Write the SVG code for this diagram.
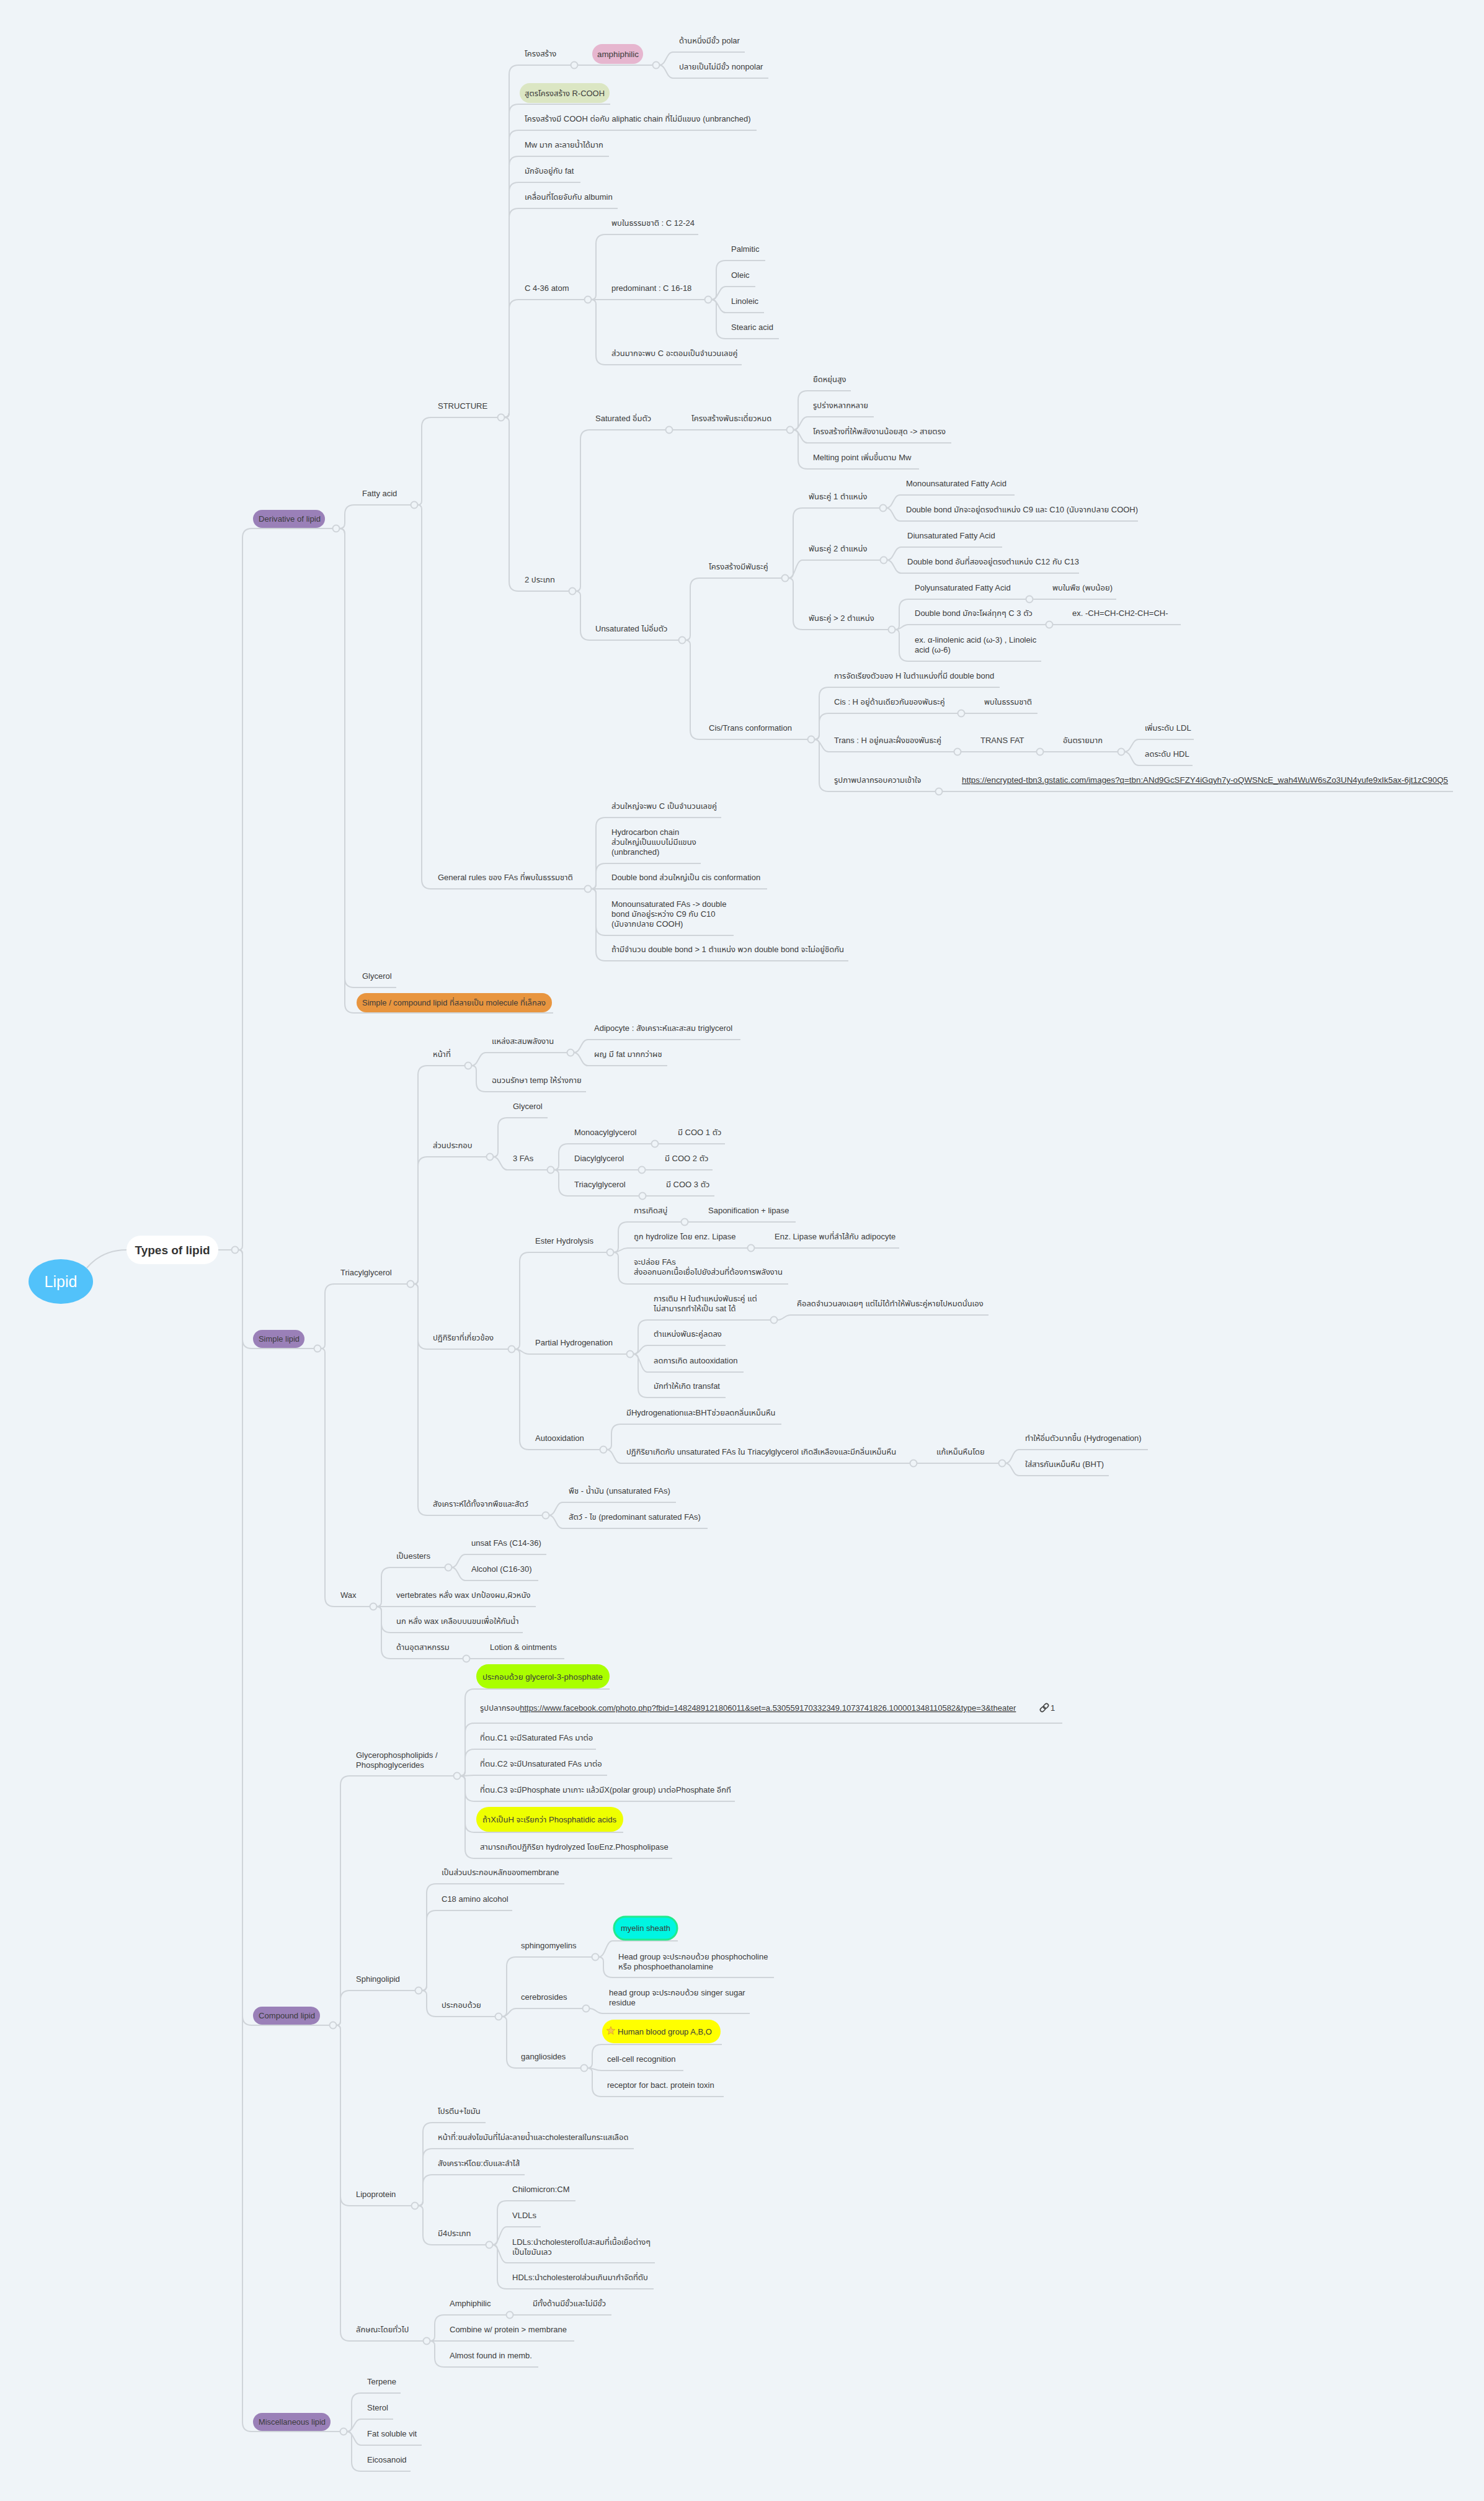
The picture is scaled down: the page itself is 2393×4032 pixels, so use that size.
<svg xmlns="http://www.w3.org/2000/svg" width="2393" height="4032" viewBox="0 0 2393 4032">
<style>
.t{font-family:"Liberation Sans","Noto Sans Thai","Noto Sans",sans-serif;font-size:13px;fill:#3b3b3b}
.u{stroke:#cfd4d9;stroke-width:2;fill:none}
#connectors path{stroke:#cfd4d9;stroke-width:2;fill:none}
.j{fill:#eff4f8;stroke:#cfd4d9;stroke-width:2}
.pp{fill:#9a80b8}
.lk{text-decoration:underline}
</style>
<rect width="2393" height="4032" fill="#eff4f8"/>
<g id="connectors">
<path d="M140 2044Q165 2015 204 2015"/>
<path d="M384.5 2015Q391 2015 391 2008.5V867Q391 852 406 852"/>
<path d="M384.5 2015Q391 2015 391 2021.5V2159Q391 2174 406 2174"/>
<path d="M384.5 2015Q391 2015 391 2021.5V3250Q391 3265 406 3265"/>
<path d="M384.5 2015Q391 2015 391 2021.5V3905Q391 3920 406 3920"/>
<path d="M547.5 852Q556 852 556 843.5V829Q556 814 571 814"/>
<path d="M547.5 852Q556 852 556 860.5V1577Q556 1592 571 1592"/>
<path d="M547.5 852Q556 852 556 860.5V1618Q556 1633 571 1633"/>
<path d="M673.5 814Q680 814 680 807.5V688Q680 673 695 673"/>
<path d="M673.5 814Q680 814 680 820.5V1418Q680 1433 695 1433"/>
<path d="M813.5 673Q821 673 821 665.5V120Q821 105 836 105"/>
<path d="M813.5 673Q821 673 821 665.5V183Q821 168 836 168"/>
<path d="M813.5 673Q821 673 821 665.5V225Q821 210 836 210"/>
<path d="M813.5 673Q821 673 821 665.5V267Q821 252 836 252"/>
<path d="M813.5 673Q821 673 821 665.5V309Q821 294 836 294"/>
<path d="M813.5 673Q821 673 821 665.5V351Q821 336 836 336"/>
<path d="M813.5 673Q821 673 821 665.5V498Q821 483 836 483"/>
<path d="M813.5 673Q821 673 821 680.5V938Q821 953 836 953"/>
<path d="M931.5 105H955"/>
<path d="M1063.5 105C1074.25 105 1074.25 84 1085 84"/>
<path d="M1063.5 105C1074.25 105 1074.25 126 1085 126"/>
<path d="M953.5 483Q961 483 961 475.5V393Q961 378 976 378"/>
<path d="M953.5 483H976"/>
<path d="M953.5 483Q961 483 961 490.5V573Q961 588 976 588"/>
<path d="M1147.5 483Q1155 483 1155 475.5V435Q1155 420 1170 420"/>
<path d="M1147.5 483C1158.75 483 1158.75 462 1170 462"/>
<path d="M1147.5 483C1158.75 483 1158.75 504 1170 504"/>
<path d="M1147.5 483Q1155 483 1155 490.5V531Q1155 546 1170 546"/>
<path d="M928.5 953Q936 953 936 945.5V708Q936 693 951 693"/>
<path d="M928.5 953Q936 953 936 960.5V1017Q936 1032 951 1032"/>
<path d="M1084.5 693H1105"/>
<path d="M1279.5 693Q1287 693 1287 685.5V645Q1287 630 1302 630"/>
<path d="M1279.5 693C1290.75 693 1290.75 672 1302 672"/>
<path d="M1279.5 693C1290.75 693 1290.75 714 1302 714"/>
<path d="M1279.5 693Q1287 693 1287 700.5V741Q1287 756 1302 756"/>
<path d="M1105.5 1032Q1113 1032 1113 1024.5V947Q1113 932 1128 932"/>
<path d="M1105.5 1032Q1113 1032 1113 1039.5V1177Q1113 1192 1128 1192"/>
<path d="M1271.5 932Q1279 932 1279 924.5V834Q1279 819 1294 819"/>
<path d="M1271.5 932C1282.75 932 1282.75 903 1294 903"/>
<path d="M1271.5 932Q1279 932 1279 939.5V1000Q1279 1015 1294 1015"/>
<path d="M1429.5 819C1440.25 819 1440.25 798 1451 798"/>
<path d="M1429.5 819C1440.25 819 1440.25 840 1451 840"/>
<path d="M1430.5 903C1441.75 903 1441.75 882 1453 882"/>
<path d="M1430.5 903C1441.75 903 1441.75 924 1453 924"/>
<path d="M1443.5 1015Q1450 1015 1450 1008.5V981Q1450 966 1465 966"/>
<path d="M1443.5 1015C1454.25 1015 1454.25 1007 1465 1007"/>
<path d="M1443.5 1015Q1450 1015 1450 1021.5V1051Q1450 1066 1465 1066"/>
<path d="M1665.5 966H1687"/>
<path d="M1697.5 1007H1719"/>
<path d="M1313.5 1192Q1321 1192 1321 1184.5V1123Q1321 1108 1336 1108"/>
<path d="M1313.5 1192Q1321 1192 1321 1184.5V1165Q1321 1150 1336 1150"/>
<path d="M1313.5 1192C1324.75 1192 1324.75 1212 1336 1212"/>
<path d="M1313.5 1192Q1321 1192 1321 1199.5V1261Q1321 1276 1336 1276"/>
<path d="M1555.5 1150H1577"/>
<path d="M1549.5 1212H1571"/>
<path d="M1682.5 1212H1704"/>
<path d="M1813.5 1212C1824.75 1212 1824.75 1192 1836 1192"/>
<path d="M1813.5 1212C1824.75 1212 1824.75 1234 1836 1234"/>
<path d="M1519.5 1276H1541"/>
<path d="M953.5 1433Q961 1433 961 1425.5V1333Q961 1318 976 1318"/>
<path d="M953.5 1433Q961 1433 961 1425.5V1407Q961 1392 976 1392"/>
<path d="M953.5 1433H976"/>
<path d="M953.5 1433Q961 1433 961 1440.5V1493Q961 1508 976 1508"/>
<path d="M953.5 1433Q961 1433 961 1440.5V1534Q961 1549 976 1549"/>
<path d="M517.5 2174Q524 2174 524 2167.5V2085Q524 2070 539 2070"/>
<path d="M517.5 2174Q524 2174 524 2180.5V2575Q524 2590 539 2590"/>
<path d="M667.5 2070Q674 2070 674 2063.5V1733Q674 1718 689 1718"/>
<path d="M667.5 2070Q674 2070 674 2063.5V1880Q674 1865 689 1865"/>
<path d="M667.5 2070Q674 2070 674 2076.5V2160Q674 2175 689 2175"/>
<path d="M667.5 2070Q674 2070 674 2076.5V2428Q674 2443 689 2443"/>
<path d="M760.5 1718C771.75 1718 771.75 1697 783 1697"/>
<path d="M760.5 1718Q768 1718 768 1725.5V1745Q768 1760 783 1760"/>
<path d="M925.5 1697C936.75 1697 936.75 1676 948 1676"/>
<path d="M925.5 1697C936.75 1697 936.75 1718 948 1718"/>
<path d="M795.5 1865Q803 1865 803 1857.5V1817Q803 1802 818 1802"/>
<path d="M795.5 1865C806.75 1865 806.75 1886 818 1886"/>
<path d="M893.5 1886Q901 1886 901 1878.5V1859Q901 1844 916 1844"/>
<path d="M893.5 1886H916"/>
<path d="M893.5 1886Q901 1886 901 1893.5V1913Q901 1928 916 1928"/>
<path d="M1061.5 1844H1083"/>
<path d="M1040.5 1886H1062"/>
<path d="M1041.5 1928H1064"/>
<path d="M830.5 2175Q838 2175 838 2167.5V2034Q838 2019 853 2019"/>
<path d="M830.5 2175C841.75 2175 841.75 2183 853 2183"/>
<path d="M830.5 2175Q838 2175 838 2182.5V2322Q838 2337 853 2337"/>
<path d="M989.5 2019Q997 2019 997 2011.5V1985Q997 1970 1012 1970"/>
<path d="M989.5 2019C1000.75 2019 1000.75 2012 1012 2012"/>
<path d="M989.5 2019Q997 2019 997 2026.5V2055Q997 2070 1012 2070"/>
<path d="M1109.5 1970H1132"/>
<path d="M1216.5 2012H1239"/>
<path d="M1021.5 2183Q1029 2183 1029 2175.5V2143Q1029 2128 1044 2128"/>
<path d="M1021.5 2183C1032.75 2183 1032.75 2169 1044 2169"/>
<path d="M1021.5 2183C1032.75 2183 1032.75 2212 1044 2212"/>
<path d="M1021.5 2183Q1029 2183 1029 2190.5V2238Q1029 2253 1044 2253"/>
<path d="M1253.5 2128C1264.25 2128 1264.25 2120 1275 2120"/>
<path d="M978.5 2337Q986 2337 986 2329.5V2311Q986 2296 1001 2296"/>
<path d="M978.5 2337C989.75 2337 989.75 2359 1001 2359"/>
<path d="M1478.5 2359H1500"/>
<path d="M1621.5 2359C1632.25 2359 1632.25 2337 1643 2337"/>
<path d="M1621.5 2359C1632.25 2359 1632.25 2379 1643 2379"/>
<path d="M885.5 2443C896.25 2443 896.25 2422 907 2422"/>
<path d="M885.5 2443C896.25 2443 896.25 2464 907 2464"/>
<path d="M607.5 2590Q615 2590 615 2582.5V2542Q615 2527 630 2527"/>
<path d="M607.5 2590H630"/>
<path d="M607.5 2590Q615 2590 615 2597.5V2617Q615 2632 630 2632"/>
<path d="M607.5 2590Q615 2590 615 2597.5V2659Q615 2674 630 2674"/>
<path d="M728.5 2527C739.25 2527 739.25 2506 750 2506"/>
<path d="M728.5 2527C739.25 2527 739.25 2548 750 2548"/>
<path d="M757.5 2674H780"/>
<path d="M542.5 3265Q549 3265 549 3258.5V2878Q549 2863 564 2863"/>
<path d="M542.5 3265Q549 3265 549 3258.5V3224Q549 3209 564 3209"/>
<path d="M542.5 3265Q549 3265 549 3271.5V3541Q549 3556 564 3556"/>
<path d="M542.5 3265Q549 3265 549 3271.5V3759Q549 3774 564 3774"/>
<path d="M742.5 2863Q750 2863 750 2855.5V2738Q750 2723 765 2723"/>
<path d="M742.5 2863Q750 2863 750 2855.5V2793Q750 2778 765 2778"/>
<path d="M742.5 2863Q750 2863 750 2855.5V2835Q750 2820 765 2820"/>
<path d="M742.5 2863C753.75 2863 753.75 2862 765 2862"/>
<path d="M742.5 2863Q750 2863 750 2870.5V2889Q750 2904 765 2904"/>
<path d="M742.5 2863Q750 2863 750 2870.5V2939Q750 2954 765 2954"/>
<path d="M742.5 2863Q750 2863 750 2870.5V2981Q750 2996 765 2996"/>
<path d="M680.5 3209Q688 3209 688 3201.5V3052Q688 3037 703 3037"/>
<path d="M680.5 3209Q688 3209 688 3201.5V3095Q688 3080 703 3080"/>
<path d="M680.5 3209Q688 3209 688 3216.5V3236Q688 3251 703 3251"/>
<path d="M809.5 3251Q817 3251 817 3243.5V3170Q817 3155 832 3155"/>
<path d="M809.5 3251C820.75 3251 820.75 3238 832 3238"/>
<path d="M809.5 3251Q817 3251 817 3258.5V3319Q817 3334 832 3334"/>
<path d="M965.5 3155C976.75 3155 976.75 3129 988 3129"/>
<path d="M965.5 3155Q973 3155 973 3162.5V3173Q973 3188 988 3188"/>
<path d="M950.5 3238C961.25 3238 961.25 3246 972 3246"/>
<path d="M947.5 3334Q955 3334 955 3326.5V3311Q955 3296 970 3296"/>
<path d="M947.5 3334C958.75 3334 958.75 3338 970 3338"/>
<path d="M947.5 3334Q955 3334 955 3341.5V3365Q955 3380 970 3380"/>
<path d="M674.5 3556Q682 3556 682 3548.5V3437Q682 3422 697 3422"/>
<path d="M674.5 3556Q682 3556 682 3548.5V3479Q682 3464 697 3464"/>
<path d="M674.5 3556Q682 3556 682 3548.5V3521Q682 3506 697 3506"/>
<path d="M674.5 3556Q682 3556 682 3563.5V3604Q682 3619 697 3619"/>
<path d="M794.5 3619Q802 3619 802 3611.5V3563Q802 3548 817 3548"/>
<path d="M794.5 3619C805.75 3619 805.75 3590 817 3590"/>
<path d="M794.5 3619C805.75 3619 805.75 3648 817 3648"/>
<path d="M794.5 3619Q802 3619 802 3626.5V3675Q802 3690 817 3690"/>
<path d="M693.5 3774Q701 3774 701 3766.5V3747Q701 3732 716 3732"/>
<path d="M693.5 3774H716"/>
<path d="M693.5 3774Q701 3774 701 3781.5V3801Q701 3816 716 3816"/>
<path d="M827.5 3732H849"/>
<path d="M559.5 3920Q567 3920 567 3912.5V3873Q567 3858 582 3858"/>
<path d="M559.5 3920C570.75 3920 570.75 3900 582 3900"/>
<path d="M559.5 3920C570.75 3920 570.75 3942 582 3942"/>
<path d="M559.5 3920Q567 3920 567 3927.5V3969Q567 3984 582 3984"/>
</g>

<g id="n-lipid"><ellipse cx="98" cy="2066" rx="52" ry="36" fill="#52c2fa"/><text x="98" y="2075" text-anchor="middle" font-family="Liberation Sans, sans-serif" font-size="25" fill="#ffffff">Lipid</text></g>
<g id="n-types"><rect x="204" y="1992" width="148" height="46" rx="23" fill="#ffffff"/><text x="278" y="2022" text-anchor="middle" font-family="Liberation Sans, sans-serif" font-size="19" font-weight="bold" fill="#333333">Types of lipid</text><path class="u" d="M352 2015H373.5"/><circle class="j" cx="379" cy="2015" r="5.5"/></g>

<g id="n-derivative"><path class="u" d="M406 852H536.5"/><rect class="pp" x="408" y="822" width="116" height="29" rx="14.5"/><text class="t" x="417" y="841" textLength="100" lengthAdjust="spacingAndGlyphs">Derivative of lipid</text><circle class="j" cx="542" cy="852" r="5.5"/></g>
<g id="n-fattyacid"><path class="u" d="M571 814H662.5"/><text class="t" x="584" y="800">Fatty acid</text><circle class="j" cx="668" cy="814" r="5.5"/></g>
<g id="n-glycerol1"><path class="u" d="M571 1592H639"/><text class="t" x="584" y="1578">Glycerol</text></g>
<g id="n-simplecompound"><path class="u" d="M571 1633H892"/><rect x="575" y="1601" width="315" height="31" rx="15.5" fill="#e8953f"/><text class="t" x="584" y="1621" textLength="296" lengthAdjust="spacingAndGlyphs">Simple / compound lipid ที่สลายเป็น molecule ที่เล็กลง</text></g>

<g id="n-structure"><path class="u" d="M695 673H802.5"/><text class="t" x="706" y="659">STRUCTURE</text><circle class="j" cx="808" cy="673" r="5.5"/></g>
<g id="n-generalrules"><path class="u" d="M695 1433H942.5"/><text class="t" x="706" y="1419">General rules ของ FAs ที่พบในธรรมชาติ</text><circle class="j" cx="948" cy="1433" r="5.5"/></g>

<g id="n-khrongsang"><path class="u" d="M836 105H920.5"/><text class="t" x="846" y="91">โครงสร้าง</text><circle class="j" cx="926" cy="105" r="5.5"/></g>
<g id="n-amphiphilic"><path class="u" d="M955 105H1052.5"/><rect x="955" y="71" width="82" height="32" rx="16" fill="#e6b6cf"/><text class="t" x="963" y="92" textLength="67" lengthAdjust="spacingAndGlyphs">amphiphilic</text><circle class="j" cx="1058" cy="105" r="5.5"/></g>
<g id="n-polar"><path class="u" d="M1085 84H1201"/><text class="t" x="1095" y="70">ด้านหนึ่งมีขั้ว polar</text></g>
<g id="n-nonpolar"><path class="u" d="M1085 126H1239"/><text class="t" x="1095" y="112">ปลายเป็นไม่มีขั้ว nonpolar</text></g>
<g id="n-rcooh"><path class="u" d="M836 168H984"/><rect x="838" y="134" width="145" height="32" rx="16" fill="#dbe6c3"/><text class="t" x="846" y="155" textLength="129" lengthAdjust="spacingAndGlyphs">สูตรโครงสร้าง R-COOH</text></g>
<g id="n-cooh"><path class="u" d="M836 210H1220"/><text class="t" x="846" y="196">โครงสร้างมี COOH ต่อกับ aliphatic chain ที่ไม่มีแขนง (unbranched)</text></g>
<g id="n-mw"><path class="u" d="M836 252H982"/><text class="t" x="846" y="238">Mw มาก ละลายน้ำได้มาก</text></g>
<g id="n-fat"><path class="u" d="M836 294H936"/><text class="t" x="846" y="280">มักจับอยู่กับ fat</text></g>
<g id="n-albumin"><path class="u" d="M836 336H996"/><text class="t" x="846" y="322">เคลื่อนที่โดยจับกับ albumin</text></g>
<g id="n-c436"><path class="u" d="M836 483H942.5"/><text class="t" x="846" y="469">C 4-36 atom</text><circle class="j" cx="948" cy="483" r="5.5"/></g>
<g id="n-2types"><path class="u" d="M836 953H917.5"/><text class="t" x="846" y="939">2 ประเภท</text><circle class="j" cx="923" cy="953" r="5.5"/></g>

<g id="n-c1224"><path class="u" d="M976 378H1126"/><text class="t" x="986" y="364">พบในธรรมชาติ : C 12-24</text></g>
<g id="n-predominant"><path class="u" d="M976 483H1136.5"/><text class="t" x="986" y="469">predominant : C 16-18</text><circle class="j" cx="1142" cy="483" r="5.5"/></g>
<g id="n-even"><path class="u" d="M976 588H1196"/><text class="t" x="986" y="574">ส่วนมากจะพบ C อะตอมเป็นจำนวนเลขคู่</text></g>
<g id="n-palmitic"><path class="u" d="M1170 420H1234"/><text class="t" x="1179" y="406">Palmitic</text></g>
<g id="n-oleic"><path class="u" d="M1170 462H1218"/><text class="t" x="1179" y="448">Oleic</text></g>
<g id="n-linoleic"><path class="u" d="M1170 504H1232"/><text class="t" x="1179" y="490">Linoleic</text></g>
<g id="n-stearic"><path class="u" d="M1170 546H1256"/><text class="t" x="1179" y="532">Stearic acid</text></g>

<g id="n-saturated"><path class="u" d="M951 693H1073.5"/><text class="t" x="960" y="679">Saturated อิ่มตัว</text><circle class="j" cx="1079" cy="693" r="5.5"/></g>
<g id="n-single"><path class="u" d="M1105 693H1268.5"/><text class="t" x="1115" y="679">โครงสร้างพันธะเดี่ยวหมด</text><circle class="j" cx="1274" cy="693" r="5.5"/></g>
<g id="n-flex"><path class="u" d="M1302 630H1372"/><text class="t" x="1311" y="616">ยืดหยุ่นสูง</text></g>
<g id="n-shape"><path class="u" d="M1302 672H1409"/><text class="t" x="1311" y="658">รูปร่างหลากหลาย</text></g>
<g id="n-lowenergy"><path class="u" d="M1302 714H1534"/><text class="t" x="1311" y="700">โครงสร้างที่ให้พลังงานน้อยสุด -&gt; สายตรง</text></g>
<g id="n-melting"><path class="u" d="M1302 756H1482"/><text class="t" x="1311" y="742">Melting point เพิ่มขึ้นตาม Mw</text></g>

<g id="n-unsaturated"><path class="u" d="M951 1032H1094.5"/><text class="t" x="960" y="1018">Unsaturated ไม่อิ่มตัว</text><circle class="j" cx="1100" cy="1032" r="5.5"/></g>
<g id="n-double"><path class="u" d="M1128 932H1260.5"/><text class="t" x="1143" y="918">โครงสร้างมีพันธะคู่</text><circle class="j" cx="1266" cy="932" r="5.5"/></g>
<g id="n-d1"><path class="u" d="M1294 819H1418.5"/><text class="t" x="1304" y="805">พันธะคู่ 1 ตำแหน่ง</text><circle class="j" cx="1424" cy="819" r="5.5"/></g>
<g id="n-mufa"><path class="u" d="M1451 798H1636"/><text class="t" x="1461" y="784">Monounsaturated Fatty Acid</text></g>
<g id="n-c9"><path class="u" d="M1451 840H1835"/><text class="t" x="1461" y="826">Double bond มักจะอยู่ตรงตำแหน่ง C9 และ C10 (นับจากปลาย COOH)</text></g>
<g id="n-d2"><path class="u" d="M1294 903H1419.5"/><text class="t" x="1304" y="889">พันธะคู่ 2 ตำแหน่ง</text><circle class="j" cx="1425" cy="903" r="5.5"/></g>
<g id="n-dufa"><path class="u" d="M1453 882H1616"/><text class="t" x="1463" y="868">Diunsaturated Fatty Acid</text></g>
<g id="n-c12"><path class="u" d="M1453 924H1740"/><text class="t" x="1463" y="910">Double bond อันที่สองอยู่ตรงตำแหน่ง C12 กับ C13</text></g>
<g id="n-d3"><path class="u" d="M1294 1015H1432.5"/><text class="t" x="1304" y="1001">พันธะคู่ &gt; 2 ตำแหน่ง</text><circle class="j" cx="1438" cy="1015" r="5.5"/></g>
<g id="n-pufa"><path class="u" d="M1465 966H1654.5"/><text class="t" x="1475" y="952">Polyunsaturated Fatty Acid</text><circle class="j" cx="1660" cy="966" r="5.5"/></g>
<g id="n-plant"><path class="u" d="M1687 966H1800"/><text class="t" x="1697" y="952">พบในพืช (พบน้อย)</text></g>
<g id="n-c3"><path class="u" d="M1465 1007H1686.5"/><text class="t" x="1475" y="993">Double bond มักจะโผล่ทุกๆ C 3 ตัว</text><circle class="j" cx="1692" cy="1007" r="5.5"/></g>
<g id="n-exch"><path class="u" d="M1719 1007H1904"/><text class="t" x="1729" y="993">ex. -CH=CH-CH2-CH=CH-</text></g>
<g id="n-exlin"><path class="u" d="M1465 1066H1679"/><text class="t" x="1475" y="1036"><tspan x="1475">ex. α-linolenic acid (ω-3) , Linoleic</tspan><tspan x="1475" dy="16">acid (ω-6)</tspan></text></g>

<g id="n-cistrans"><path class="u" d="M1128 1192H1302.5"/><text class="t" x="1143" y="1178">Cis/Trans conformation</text><circle class="j" cx="1308" cy="1192" r="5.5"/></g>
<g id="n-arrange"><path class="u" d="M1336 1108H1612"/><text class="t" x="1345" y="1094">การจัดเรียงตัวของ H ในตำแหน่งที่มี double bond</text></g>
<g id="n-cis"><path class="u" d="M1336 1150H1544.5"/><text class="t" x="1345" y="1136">Cis : H อยู่ด้านเดียวกันของพันธะคู่</text><circle class="j" cx="1550" cy="1150" r="5.5"/></g>
<g id="n-natural"><path class="u" d="M1577 1150H1673"/><text class="t" x="1587" y="1136">พบในธรรมชาติ</text></g>
<g id="n-trans"><path class="u" d="M1336 1212H1538.5"/><text class="t" x="1345" y="1198">Trans : H อยู่คนละฝั่งของพันธะคู่</text><circle class="j" cx="1544" cy="1212" r="5.5"/></g>
<g id="n-transfat"><path class="u" d="M1571 1212H1671.5"/><text class="t" x="1581" y="1198">TRANS FAT</text><circle class="j" cx="1677" cy="1212" r="5.5"/></g>
<g id="n-danger"><path class="u" d="M1704 1212H1802.5"/><text class="t" x="1714" y="1198">อันตรายมาก</text><circle class="j" cx="1808" cy="1212" r="5.5"/></g>
<g id="n-ldl"><path class="u" d="M1836 1192H1925"/><text class="t" x="1846" y="1178">เพิ่มระดับ LDL</text></g>
<g id="n-hdl"><path class="u" d="M1836 1234H1923"/><text class="t" x="1846" y="1220">ลดระดับ HDL</text></g>
<g id="n-picture"><path class="u" d="M1336 1276H1508.5"/><text class="t" x="1345" y="1262">รูปภาพปลากรอบความเข้าใจ</text><circle class="j" cx="1514" cy="1276" r="5.5"/></g>
<g id="n-url1"><path class="u" d="M1541 1276H2343"/><text class="t lk" x="1551" y="1262" textLength="784" lengthAdjust="spacingAndGlyphs">https://encrypted-tbn3.gstatic.com/images?q=tbn:ANd9GcSFZY4iGqyh7y-oQWSNcE_wah4WuW6sZo3UN4yufe9xIk5ax-6jt1zC90Q5</text></g>

<g id="n-gr1"><path class="u" d="M976 1318H1163"/><text class="t" x="986" y="1304">ส่วนใหญ่จะพบ C เป็นจำนวนเลขคู่</text></g>
<g id="n-gr2"><path class="u" d="M976 1392H1130"/><text class="t" x="986" y="1346"><tspan x="986">Hydrocarbon chain</tspan><tspan x="986" dy="16">ส่วนใหญ่เป็นแบบไม่มีแขนง</tspan><tspan x="986" dy="16">(unbranched)</tspan></text></g>
<g id="n-gr3"><path class="u" d="M976 1433H1237"/><text class="t" x="986" y="1419">Double bond ส่วนใหญ่เป็น cis conformation</text></g>
<g id="n-gr4"><path class="u" d="M976 1508H1183"/><text class="t" x="986" y="1462"><tspan x="986">Monounsaturated FAs -&gt; double</tspan><tspan x="986" dy="16">bond มักอยู่ระหว่าง C9 กับ C10</tspan><tspan x="986" dy="16">(นับจากปลาย COOH)</tspan></text></g>
<g id="n-gr5"><path class="u" d="M976 1549H1368"/><text class="t" x="986" y="1535">ถ้ามีจำนวน double bond &gt; 1 ตำแหน่ง พวก double bond จะไม่อยู่ชิดกัน</text></g>

<g id="n-simple"><path class="u" d="M406 2174H506.5"/><rect class="pp" x="408" y="2144" width="83" height="29" rx="14.5"/><text class="t" x="417" y="2163" textLength="66" lengthAdjust="spacingAndGlyphs">Simple lipid</text><circle class="j" cx="512" cy="2174" r="5.5"/></g>
<g id="n-tag"><path class="u" d="M539 2070H656.5"/><text class="t" x="549" y="2056">Triacylglycerol</text><circle class="j" cx="662" cy="2070" r="5.5"/></g>
<g id="n-function"><path class="u" d="M689 1718H749.5"/><text class="t" x="698" y="1704">หน้าที่</text><circle class="j" cx="755" cy="1718" r="5.5"/></g>
<g id="n-energy"><path class="u" d="M783 1697H914.5"/><text class="t" x="793" y="1683">แหล่งสะสมพลังงาน</text><circle class="j" cx="920" cy="1697" r="5.5"/></g>
<g id="n-adipocyte"><path class="u" d="M948 1676H1194"/><text class="t" x="958" y="1662">Adipocyte : สังเคราะห์และสะสม triglycerol</text></g>
<g id="n-female"><path class="u" d="M948 1718H1076"/><text class="t" x="958" y="1704">ผญ มี fat มากกว่าผช</text></g>
<g id="n-insulate"><path class="u" d="M783 1760H945"/><text class="t" x="793" y="1746">ฉนวนรักษา temp ให้ร่างกาย</text></g>
<g id="n-component"><path class="u" d="M689 1865H784.5"/><text class="t" x="698" y="1851">ส่วนประกอบ</text><circle class="j" cx="790" cy="1865" r="5.5"/></g>
<g id="n-glycerol2"><path class="u" d="M818 1802H883"/><text class="t" x="827" y="1788">Glycerol</text></g>
<g id="n-3fas"><path class="u" d="M818 1886H882.5"/><text class="t" x="827" y="1872">3 FAs</text><circle class="j" cx="888" cy="1886" r="5.5"/></g>
<g id="n-mono"><path class="u" d="M916 1844H1050.5"/><text class="t" x="926" y="1830">Monoacylglycerol</text><circle class="j" cx="1056" cy="1844" r="5.5"/></g>
<g id="n-coo1"><path class="u" d="M1083 1844H1169"/><text class="t" x="1093" y="1830">มี COO 1 ตัว</text></g>
<g id="n-di"><path class="u" d="M916 1886H1029.5"/><text class="t" x="926" y="1872">Diacylglycerol</text><circle class="j" cx="1035" cy="1886" r="5.5"/></g>
<g id="n-coo2"><path class="u" d="M1062 1886H1149"/><text class="t" x="1072" y="1872">มี COO 2 ตัว</text></g>
<g id="n-tri"><path class="u" d="M916 1928H1030.5"/><text class="t" x="926" y="1914">Triacylglycerol</text><circle class="j" cx="1036" cy="1928" r="5.5"/></g>
<g id="n-coo3"><path class="u" d="M1064 1928H1152"/><text class="t" x="1074" y="1914">มี COO 3 ตัว</text></g>
<g id="n-reaction"><path class="u" d="M689 2175H819.5"/><text class="t" x="698" y="2161">ปฏิกิริยาที่เกี่ยวข้อง</text><circle class="j" cx="825" cy="2175" r="5.5"/></g>
<g id="n-ester"><path class="u" d="M853 2019H978.5"/><text class="t" x="863" y="2005">Ester Hydrolysis</text><circle class="j" cx="984" cy="2019" r="5.5"/></g>
<g id="n-soap"><path class="u" d="M1012 1970H1098.5"/><text class="t" x="1022" y="1956">การเกิดสบู่</text><circle class="j" cx="1104" cy="1970" r="5.5"/></g>
<g id="n-sapon"><path class="u" d="M1132 1970H1283"/><text class="t" x="1142" y="1956">Saponification + lipase</text></g>
<g id="n-hydrolize"><path class="u" d="M1012 2012H1205.5"/><text class="t" x="1022" y="1998">ถูก hydrolize โดย enz. Lipase</text><circle class="j" cx="1211" cy="2012" r="5.5"/></g>
<g id="n-enzlipase"><path class="u" d="M1239 2012H1450"/><text class="t" x="1249" y="1998">Enz. Lipase พบที่ลำไส้กับ adipocyte</text></g>
<g id="n-release"><path class="u" d="M1012 2070H1271"/><text class="t" x="1022" y="2039"><tspan x="1022">จะปล่อย FAs</tspan><tspan x="1022" dy="16">ส่งออกนอกเนื้อเยื่อไปยังส่วนที่ต้องการพลังงาน</tspan></text></g>
<g id="n-partial"><path class="u" d="M853 2183H1010.5"/><text class="t" x="863" y="2169">Partial Hydrogenation</text><circle class="j" cx="1016" cy="2183" r="5.5"/></g>
<g id="n-addh"><path class="u" d="M1044 2128H1242.5"/><text class="t" x="1054" y="2098"><tspan x="1054">การเติม H ในตำแหน่งพันธะคู่ แต่</tspan><tspan x="1054" dy="16">ไม่สามารถทำให้เป็น sat ได้</tspan></text><circle class="j" cx="1248" cy="2128" r="5.5"/></g>
<g id="n-reduce"><path class="u" d="M1275 2120H1594"/><text class="t" x="1285" y="2106">คือลดจำนวนลงเฉยๆ แต่ไม่ได้ทำให้พันธะคู่หายไปหมดนั่นเอง</text></g>
<g id="n-fewer"><path class="u" d="M1044 2169H1170"/><text class="t" x="1054" y="2155">ตำแหน่งพันธะคู่ลดลง</text></g>
<g id="n-lessox"><path class="u" d="M1044 2212H1199"/><text class="t" x="1054" y="2198">ลดการเกิด autooxidation</text></g>
<g id="n-transfat2"><path class="u" d="M1044 2253H1170"/><text class="t" x="1054" y="2239">มักทำให้เกิด transfat</text></g>
<g id="n-autoox"><path class="u" d="M853 2337H967.5"/><text class="t" x="863" y="2323">Autooxidation</text><circle class="j" cx="973" cy="2337" r="5.5"/></g>
<g id="n-bht1"><path class="u" d="M1001 2296H1260"/><text class="t" x="1010" y="2282">มีHydrogenationและBHTช่วยลดกลิ่นเหม็นหืน</text></g>
<g id="n-rancid"><path class="u" d="M1001 2359H1467.5"/><text class="t" x="1010" y="2345">ปฏิกิริยาเกิดกับ unsaturated FAs ใน Triacylglycerol เกิดสีเหลืองและมีกลิ่นเหม็นหืน</text><circle class="j" cx="1473" cy="2359" r="5.5"/></g>
<g id="n-fix"><path class="u" d="M1500 2359H1610.5"/><text class="t" x="1510" y="2345">แก้เหม็นหืนโดย</text><circle class="j" cx="1616" cy="2359" r="5.5"/></g>
<g id="n-hydrogenation"><path class="u" d="M1643 2337H1851"/><text class="t" x="1653" y="2323">ทำให้อิ่มตัวมากขึ้น (Hydrogenation)</text></g>
<g id="n-bht2"><path class="u" d="M1643 2379H1788"/><text class="t" x="1653" y="2365">ใส่สารกันเหม็นหืน (BHT)</text></g>
<g id="n-synth"><path class="u" d="M689 2443H874.5"/><text class="t" x="698" y="2429">สังเคราะห์ได้ทั้งจากพืชและสัตว์</text><circle class="j" cx="880" cy="2443" r="5.5"/></g>
<g id="n-plantoil"><path class="u" d="M907 2422H1090"/><text class="t" x="917" y="2408">พืช - น้ำมัน (unsaturated FAs)</text></g>
<g id="n-animalfat"><path class="u" d="M907 2464H1141"/><text class="t" x="917" y="2450">สัตว์ - ไข (predominant saturated FAs)</text></g>

<g id="n-wax"><path class="u" d="M539 2590H596.5"/><text class="t" x="549" y="2576">Wax</text><circle class="j" cx="602" cy="2590" r="5.5"/></g>
<g id="n-esters"><path class="u" d="M630 2527H717.5"/><text class="t" x="639" y="2513">เป็นesters</text><circle class="j" cx="723" cy="2527" r="5.5"/></g>
<g id="n-unsatfa"><path class="u" d="M750 2506H881"/><text class="t" x="760" y="2492">unsat FAs (C14-36)</text></g>
<g id="n-alcohol"><path class="u" d="M750 2548H868"/><text class="t" x="760" y="2534">Alcohol (C16-30)</text></g>
<g id="n-vertebrates"><path class="u" d="M630 2590H864"/><text class="t" x="639" y="2576">vertebrates หลั่ง wax ปกป้องผม,ผิวหนัง</text></g>
<g id="n-bird"><path class="u" d="M630 2632H843"/><text class="t" x="639" y="2618">นก หลั่ง wax เคลือบบนขนเพื่อให้กันน้ำ</text></g>
<g id="n-industry"><path class="u" d="M630 2674H746.5"/><text class="t" x="639" y="2660">ด้านอุตสาหกรรม</text><circle class="j" cx="752" cy="2674" r="5.5"/></g>
<g id="n-lotion"><path class="u" d="M780 2674H910"/><text class="t" x="790" y="2660">Lotion &amp; ointments</text></g>

<g id="n-compound"><path class="u" d="M406 3265H531.5"/><rect class="pp" x="408" y="3235" width="108" height="29" rx="14.5"/><text class="t" x="417" y="3254" textLength="91" lengthAdjust="spacingAndGlyphs">Compound lipid</text><circle class="j" cx="537" cy="3265" r="5.5"/></g>
<g id="n-glycerophos"><path class="u" d="M564 2863H731.5"/><text class="t" x="574" y="2834"><tspan x="574">Glycerophospholipids /</tspan><tspan x="574" dy="16">Phosphoglycerides</tspan></text><circle class="j" cx="737" cy="2863" r="5.5"/></g>
<g id="n-g3p"><path class="u" d="M765 2723H983"/><rect x="768" y="2683" width="215" height="39" rx="19.5" fill="#aaff00"/><text class="t" x="778" y="2708" textLength="194" lengthAdjust="spacingAndGlyphs">ประกอบด้วย glycerol-3-phosphate</text></g>
<g id="n-fbpic"><path class="u" d="M765 2778H1713"/><text class="t" x="774" y="2758">รูปปลากรอบ<tspan class="lk">https://www.facebook.com/photo.php?fbid=1482489121806011&amp;set=a.530559170332349.1073741826.100001348110582&amp;type=3&amp;theater</tspan></text><g transform="translate(1684 2753) rotate(-45)" fill="none" stroke="#444" stroke-width="1.6"><rect x="-8" y="-3" width="9" height="6" rx="3"/><rect x="-1" y="-3" width="9" height="6" rx="3"/></g><text class="t" x="1694" y="2758">1</text></g>
<g id="n-c1"><path class="u" d="M765 2820H961"/><text class="t" x="774" y="2806">ที่ตน.C1 จะมีSaturated FAs มาต่อ</text></g>
<g id="n-c2"><path class="u" d="M765 2862H979"/><text class="t" x="774" y="2848">ที่ตน.C2 จะมีUnsaturated FAs มาต่อ</text></g>
<g id="n-c3p"><path class="u" d="M765 2904H1185"/><text class="t" x="774" y="2890">ที่ตน.C3 จะมีPhosphate มาเกาะ แล้วมีX(polar group) มาต่อPhosphate อีกที</text></g>
<g id="n-pa"><path class="u" d="M765 2954H1005"/><rect x="768" y="2913" width="237" height="40" rx="20" fill="#eeff00"/><text class="t" x="778" y="2938" textLength="216" lengthAdjust="spacingAndGlyphs">ถ้าXเป็นH จะเรียกว่า Phosphatidic acids</text></g>
<g id="n-phospholipase"><path class="u" d="M765 2996H1084"/><text class="t" x="774" y="2982">สามารถเกิดปฏิกิริยา hydrolyzed โดยEnz.Phospholipase</text></g>

<g id="n-sphingolipid"><path class="u" d="M564 3209H669.5"/><text class="t" x="574" y="3195">Sphingolipid</text><circle class="j" cx="675" cy="3209" r="5.5"/></g>
<g id="n-membrane"><path class="u" d="M703 3037H910"/><text class="t" x="712" y="3023">เป็นส่วนประกอบหลักของmembrane</text></g>
<g id="n-c18"><path class="u" d="M703 3080H826"/><text class="t" x="712" y="3066">C18 amino alcohol</text></g>
<g id="n-consist"><path class="u" d="M703 3251H798.5"/><text class="t" x="712" y="3237">ประกอบด้วย</text><circle class="j" cx="804" cy="3251" r="5.5"/></g>
<g id="n-sphingomyelins"><path class="u" d="M832 3155H954.5"/><text class="t" x="840" y="3141">sphingomyelins</text><circle class="j" cx="960" cy="3155" r="5.5"/></g>
<g id="n-myelin"><path class="u" d="M988 3129H1093"/><rect x="990" y="3090" width="102" height="37" rx="18.5" fill="#00f5e2" stroke="#22ea8c" stroke-width="3"/><text class="t" x="1001" y="3113" textLength="80" lengthAdjust="spacingAndGlyphs">myelin sheath</text></g>
<g id="n-headgroup1"><path class="u" d="M988 3188H1248"/><text class="t" x="997" y="3159"><tspan x="997">Head group จะประกอบด้วย phosphocholine</tspan><tspan x="997" dy="16">หรือ phosphoethanolamine</tspan></text></g>
<g id="n-cerebrosides"><path class="u" d="M832 3238H939.5"/><text class="t" x="840" y="3224">cerebrosides</text><circle class="j" cx="945" cy="3238" r="5.5"/></g>
<g id="n-headgroup2"><path class="u" d="M972 3246H1209"/><text class="t" x="982" y="3217"><tspan x="982">head group จะประกอบด้วย singer sugar</tspan><tspan x="982" dy="16">residue</tspan></text></g>
<g id="n-gangliosides"><path class="u" d="M832 3334H936.5"/><text class="t" x="840" y="3320">gangliosides</text><circle class="j" cx="942" cy="3334" r="5.5"/></g>
<g id="n-blood"><path class="u" d="M970 3296H1164"/><rect x="971" y="3256" width="191" height="38" rx="19" fill="#ffff00"/><polygon transform="translate(985 3274)" points="0,-7 1.76,-2.43 6.66,-2.16 2.85,0.93 4.11,5.66 0,3 -4.11,5.66 -2.85,0.93 -6.66,-2.16 -1.76,-2.43" fill="#f7c948" stroke="#e09a1a" stroke-width="0.8"/><text class="t" x="996" y="3280" textLength="152" lengthAdjust="spacingAndGlyphs">Human blood group A,B,O</text></g>
<g id="n-recognition"><path class="u" d="M970 3338H1102"/><text class="t" x="979" y="3324">cell-cell recognition</text></g>
<g id="n-receptor"><path class="u" d="M970 3380H1167"/><text class="t" x="979" y="3366">receptor for bact. protein toxin</text></g>

<g id="n-lipoprotein"><path class="u" d="M564 3556H663.5"/><text class="t" x="574" y="3542">Lipoprotein</text><circle class="j" cx="669" cy="3556" r="5.5"/></g>
<g id="n-proteinfat"><path class="u" d="M697 3422H783"/><text class="t" x="706" y="3408">โปรตีน+ไขมัน</text></g>
<g id="n-transport"><path class="u" d="M697 3464H1022"/><text class="t" x="706" y="3450">หน้าที่:ขนส่งไขมันที่ไม่ละลายน้ำและcholesteralในกระแสเลือด</text></g>
<g id="n-liver"><path class="u" d="M697 3506H846"/><text class="t" x="706" y="3492">สังเคราะห์โดย:ตับและลำไส้</text></g>
<g id="n-4types"><path class="u" d="M697 3619H783.5"/><text class="t" x="706" y="3605">มี4ประเภท</text><circle class="j" cx="789" cy="3619" r="5.5"/></g>
<g id="n-cm"><path class="u" d="M817 3548H928"/><text class="t" x="826" y="3534">Chilomicron:CM</text></g>
<g id="n-vldl"><path class="u" d="M817 3590H872"/><text class="t" x="826" y="3576">VLDLs</text></g>
<g id="n-ldls"><path class="u" d="M817 3648H1056"/><text class="t" x="826" y="3619"><tspan x="826">LDLs:นำcholesterolไปสะสมที่เนื้อเยื่อต่างๆ</tspan><tspan x="826" dy="16">เป็นไขมันเลว</tspan></text></g>
<g id="n-hdls"><path class="u" d="M817 3690H1054"/><text class="t" x="826" y="3676">HDLs:นำcholesterolส่วนเกินมากำจัดที่ตับ</text></g>

<g id="n-general"><path class="u" d="M564 3774H682.5"/><text class="t" x="574" y="3760">ลักษณะโดยทั่วไป</text><circle class="j" cx="688" cy="3774" r="5.5"/></g>
<g id="n-amphi2"><path class="u" d="M716 3732H816.5"/><text class="t" x="725" y="3718">Amphiphilic</text><circle class="j" cx="822" cy="3732" r="5.5"/></g>
<g id="n-bothpolar"><path class="u" d="M849 3732H986"/><text class="t" x="859" y="3718">มีทั้งด้านมีขั้วและไม่มีขั้ว</text></g>
<g id="n-combine"><path class="u" d="M716 3774H926"/><text class="t" x="725" y="3760">Combine w/ protein &gt; membrane</text></g>
<g id="n-almost"><path class="u" d="M716 3816H868"/><text class="t" x="725" y="3802">Almost found in memb.</text></g>

<g id="n-misc"><path class="u" d="M406 3920H548.5"/><rect class="pp" x="408" y="3890" width="125" height="29" rx="14.5"/><text class="t" x="417" y="3909" textLength="108" lengthAdjust="spacingAndGlyphs">Miscellaneous lipid</text><circle class="j" cx="554" cy="3920" r="5.5"/></g>
<g id="n-terpene"><path class="u" d="M582 3858H646"/><text class="t" x="592" y="3844">Terpene</text></g>
<g id="n-sterol"><path class="u" d="M582 3900H634"/><text class="t" x="592" y="3886">Sterol</text></g>
<g id="n-fatvit"><path class="u" d="M582 3942H680"/><text class="t" x="592" y="3928">Fat soluble vit</text></g>
<g id="n-eicosanoid"><path class="u" d="M582 3984H662"/><text class="t" x="592" y="3970">Eicosanoid</text></g>
</svg>
